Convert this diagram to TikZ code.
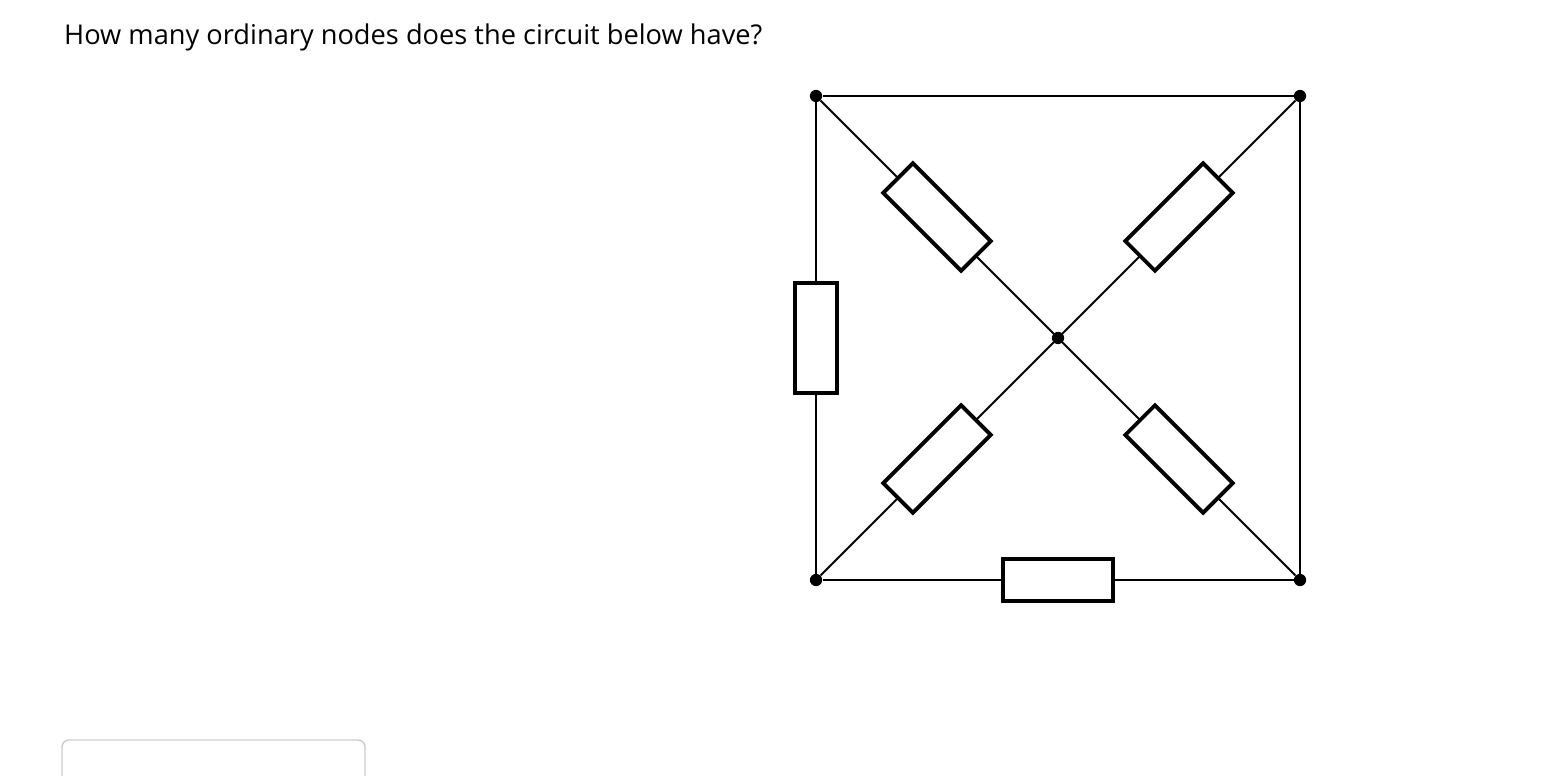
\documentclass[tikz,border=0pt]{standalone}
\usepackage{fontspec}
\setmainfont{Open Sans}
\begin{document}
\begin{tikzpicture}[x=0.02cm,y=-0.02cm,
  wire/.style={line width=1.1pt},
  res/.style={draw,line width=2.2pt,fill=white,minimum width=110*0.02cm,minimum height=42*0.02cm,inner sep=0pt},
  dot/.style={circle,fill,inner sep=0pt,minimum size=7pt}]
\useasboundingbox (0,0) rectangle (1550,776);
\node[anchor=west,font=\fontsize{15.5}{18}\selectfont] (q) at (58,37) {How many ordinary nodes does the circuit below have?};
\node[dot] (tl) at (816,96) {};
\node[dot] (tr) at (1300,96) {};
\node[dot] (bl) at (816,580) {};
\node[dot] (br) at (1300,580) {};
\node[dot] (c) at (1058,338) {};
\draw[wire] (tl) -- (tr) -- (br) -- (bl) -- (tl);
\draw[wire] (tl) -- (br);
\draw[wire] (tr) -- (bl);
\node[res,rotate=90] (r1) at (816,338) {};
\node[res] (r2) at (1058,580) {};
\node[res,rotate=-45] (r3) at (937,217) {};
\node[res,rotate=45] (r4) at (1179,217) {};
\node[res,rotate=45] (r5) at (937,459) {};
\node[res,rotate=-45] (r6) at (1179,459) {};
\draw[gray!40,line width=0.8pt,rounded corners=4pt] (62,790) -- (62,740) -- (365,740) -- (365,790);
\end{tikzpicture}
\end{document}
